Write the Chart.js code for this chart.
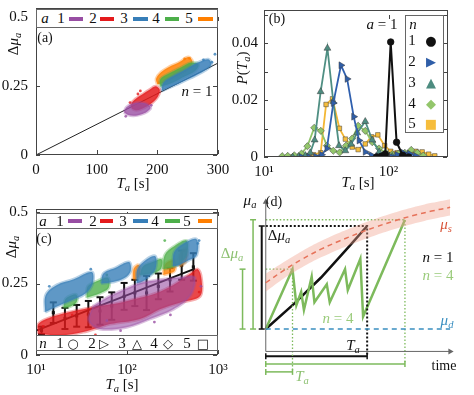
<!DOCTYPE html>
<html>
<head>
<meta charset="utf-8">
<title>Avalanche size and duration</title>
<script src="https://cdn.jsdelivr.net/npm/chart.js@4.4.1/dist/chart.umd.min.js"></script>
<style>
  body { margin: 0; background: #fff; }
  #fig { position: relative; width: 474px; height: 395px; overflow: hidden;
         font-family: "Liberation Serif", "DejaVu Serif", serif; color: #111; }
  #fig canvas { position: absolute; }
  .t { position: absolute; white-space: nowrap; line-height: 1; font-size: 15px;
       transform: translate(-50%, -50%); }
  .r { transform: translate(-50%, -50%) rotate(-90deg); }
  .t sub { font-size: 0.7em; vertical-align: -0.3em; font-style: italic; }
  .frame { position: absolute; box-sizing: border-box; border: 1px solid #444; }
  .box { position: absolute; box-sizing: border-box; background: #fff; border: 1.5px solid #666; }
  .dash { position: absolute; height: 4px; }
  .sym { font-family: "DejaVu Sans", sans-serif; font-size: 13px; }
</style>
</head>
<body>
<div id="fig">
  <canvas id="chartA" width="237" height="195" style="left:0;top:0"></canvas>
  <canvas id="chartB" width="252" height="195" style="left:222px;top:0"></canvas>
  <canvas id="chartC" width="237" height="200" style="left:0;top:195px"></canvas>
  <canvas id="chartD" width="242" height="200" style="left:224px;top:190px"></canvas>
  <div class="frame" style="left:36px;top:8px;width:182px;height:147px"></div>
  <div class="frame" style="left:264px;top:10px;width:184px;height:147px"></div>
  <div class="frame" style="left:36px;top:209px;width:182px;height:146px"></div>

  <!-- panel (a) -->
  <div class="box" style="left:36px;top:9px;width:182px;height:19px"></div>
  <div class="t" style="left:45px;top:18px"><i>a</i></div>
  <div class="t" style="left:61px;top:18px">1</div>
  <div class="dash" style="left:69px;top:16.5px;width:14px;background:#984ea3"></div>
  <div class="t" style="left:93px;top:18px">2</div>
  <div class="dash" style="left:100px;top:16.5px;width:14px;background:#e41a1c"></div>
  <div class="t" style="left:124px;top:18px">3</div>
  <div class="dash" style="left:133px;top:16.5px;width:15px;background:#377eb8"></div>
  <div class="t" style="left:156px;top:18px">4</div>
  <div class="dash" style="left:165px;top:16.5px;width:14px;background:#4daf4a"></div>
  <div class="t" style="left:189px;top:18px">5</div>
  <div class="dash" style="left:198px;top:16.5px;width:15px;background:#ff7f00"></div>
  <div class="t" style="left:45px;top:38px;font-size:14px">(a)</div>
  <div class="t" style="left:197px;top:91px"><i>n</i> = 1</div>
  <div class="t" style="left:133px;top:185px"><i>T</i><sub>a</sub> [s]</div>
  <div class="t r" style="left:15px;top:44px">Δ<i>μ</i><sub>a</sub></div>

  <!-- panel (b) -->
  <div class="box" style="left:405px;top:15px;width:39px;height:118px;border-width:1px"></div>
  <div class="t" style="left:413px;top:24px"><i>n</i></div>
  <div class="t" style="left:412px;top:40px">1</div>
  <div class="t sym" style="left:431px;top:40px;color:#111">●</div>
  <div class="t" style="left:412px;top:61px">2</div>
  <div class="t sym" style="left:431px;top:61px;color:#2f5ea8">▶</div>
  <div class="t" style="left:412px;top:82px">3</div>
  <div class="t sym" style="left:431px;top:82px;color:#4d8c80">▲</div>
  <div class="t" style="left:412px;top:103px">4</div>
  <div class="t sym" style="left:431px;top:103px;color:#93c66b">◆</div>
  <div class="t" style="left:412px;top:123px">5</div>
  <div class="t sym" style="left:431px;top:123px;color:#f6bd3c">■</div>
  <div class="t" style="left:382px;top:24px"><i>a</i> = 1</div>
  <div class="t" style="left:277px;top:19px;font-size:14px">(b)</div>
  <div class="t" style="left:358px;top:184px"><i>T</i><sub>a</sub> [s]</div>
  <div class="t r" style="left:244px;top:68px"><i>P</i>(<i>T</i><sub>a</sub>)</div>

  <!-- panel (c) -->
  <div class="box" style="left:36px;top:213px;width:182px;height:16px"></div>
  <div class="t" style="left:43px;top:221px"><i>a</i></div>
  <div class="t" style="left:60px;top:221px">1</div>
  <div class="dash" style="left:68px;top:219px;width:14px;background:#984ea3"></div>
  <div class="t" style="left:93px;top:221px">2</div>
  <div class="dash" style="left:100px;top:219px;width:13px;background:#e41a1c"></div>
  <div class="t" style="left:123px;top:221px">3</div>
  <div class="dash" style="left:133px;top:219px;width:15px;background:#377eb8"></div>
  <div class="t" style="left:155px;top:221px">4</div>
  <div class="dash" style="left:165px;top:219px;width:15px;background:#4daf4a"></div>
  <div class="t" style="left:187px;top:221px">5</div>
  <div class="dash" style="left:198px;top:219px;width:14px;background:#ff7f00"></div>
  <div class="box" style="left:36px;top:335px;width:182px;height:16px"></div>
  <div class="t" style="left:43px;top:343px"><i>n</i></div>
  <div class="t" style="left:60px;top:343px">1</div>
  <div class="t sym" style="left:73px;top:343px">○</div>
  <div class="t" style="left:92px;top:343px">2</div>
  <div class="t sym" style="left:104px;top:343px">▷</div>
  <div class="t" style="left:122px;top:343px">3</div>
  <div class="t sym" style="left:137px;top:343px">△</div>
  <div class="t" style="left:154px;top:343px">4</div>
  <div class="t sym" style="left:168px;top:343px">◇</div>
  <div class="t" style="left:187px;top:343px">5</div>
  <div class="t sym" style="left:203px;top:343px">□</div>
  <div class="t" style="left:44px;top:239px;font-size:14px">(c)</div>
  <div class="t" style="left:122px;top:386px"><i>T</i><sub>a</sub> [s]</div>
  <div class="t r" style="left:13px;top:247px">Δ<i>μ</i><sub>a</sub></div>

  <!-- panel (d) -->
  <div class="t" style="left:250px;top:202px"><i>μ</i><sub>a</sub></div>
  <div class="t" style="left:274px;top:202px;font-size:14px">(d)</div>
  <div class="t" style="left:279px;top:237px">Δ<i>μ</i><sub>a</sub></div>
  <div class="t" style="left:232px;top:255px;color:#8cc070">Δ<i>μ</i><sub>a</sub></div>
  <div class="t" style="left:446px;top:226px;color:#d9553a"><i>μ</i><sub>s</sub></div>
  <div class="t" style="left:438px;top:257px"><i>n</i> = 1</div>
  <div class="t" style="left:438px;top:275px;color:#9acb7b"><i>n</i> = 4</div>
  <div class="t" style="left:338px;top:318px;color:#9acb7b"><i>n</i> = 4</div>
  <div class="t" style="left:447px;top:322px;color:#3a8fc0"><i>μ</i><sub>d</sub></div>
  <div class="t" style="left:353px;top:347px"><i>T</i><sub>a</sub></div>
  <div class="t" style="left:302px;top:378px;color:#8cc070"><i>T</i><sub>a</sub></div>
  <div class="t" style="left:444px;top:366px;font-size:14px">time</div>
</div>

<script>
// ---------- panel (a): clouds of (Ta [s], dmu) for each a, n = 1 ----------
const aXTicks = [0, 100, 200, 300];
const aXTickLabels = ["0", "100", "200", "300"];
const aYTicks = [0, 0.25, 0.5];
const aYTickLabels = ["0", "0.25", "0.5"];

const aCloud1 = [[145, 0.155], [151, 0.146], [161, 0.142], [173, 0.147], [183, 0.157], [189, 0.171], [184, 0.184], [172, 0.19], [159, 0.186], [149, 0.173], [145, 0.155]];
const aCloud2 = [[158, 0.168], [166, 0.162], [179, 0.172], [192, 0.19], [201, 0.212], [204, 0.236], [197, 0.249], [187, 0.236], [175, 0.219], [164, 0.203], [157, 0.185], [158, 0.168]];
const aCloud3 = [[207, 0.232], [230, 0.254], [255, 0.279], [279, 0.307], [289, 0.327], [284, 0.347], [266, 0.334], [246, 0.31], [226, 0.286], [210, 0.262], [207, 0.232]];
const aCloud4 = [[205, 0.247], [225, 0.262], [245, 0.284], [262, 0.304], [268, 0.328], [256, 0.335], [238, 0.316], [220, 0.296], [205, 0.275], [205, 0.247]];
const aCloud5 = [[200, 0.256], [215, 0.265], [234, 0.288], [250, 0.308], [258, 0.338], [251, 0.355], [236, 0.336], [220, 0.32], [206, 0.3], [198, 0.276], [200, 0.256]];
const aStray1 = [[148, 0.14], [190, 0.18]];
const aStray2 = [[168, 0.221], [172, 0.232], [155, 0.19]];
const aStray3 = [[295, 0.365], [276, 0.345], [290, 0.336]];
const aStray5 = [[253, 0.35], [245, 0.348], [203, 0.262]];
const aFitT = [0, 300];
const aFitMu = [0, 0.333];

// ---------- panel (b): P(Ta) for a = 1 ----------
const bXTicks = [10, 100];
const bXTickLabels = ["10¹", "10²"];
const bYTicks = [0, 0.01, 0.02, 0.03, 0.04, 0.05];
const bYTickLabels = ["0", "", "0.02", "", "0.04", ""];

const bT1 = [80, 88, 94, 104, 116, 130, 145];
const bP1 = [0, 0.0003, 0.001, 0.0405, 0.0052, 0.0006, 0];
const bT2 = [20, 23, 26, 29, 32, 36, 41.5, 46.5, 52.5, 58, 65, 73, 82, 92, 104, 117, 131, 147, 165];
const bP2 = [0, 0, 0.0002, 0.0008, 0.003, 0.019, 0.0323, 0.0275, 0.0142, 0.0058, 0.0018, 0.0006, 0.0003, 0.0002, 0.0002, 0.0008, 0.0015, 0.0012, 0.0004];
const bT3 = [17, 19, 21.5, 23.5, 25.5, 28.5, 32.3, 36, 40, 45, 50, 56, 65, 74, 84, 95, 107, 120];
const bP3 = [0, 0.0002, 0.0005, 0.0015, 0.006, 0.023, 0.0383, 0.0195, 0.004, 0.0022, 0.0045, 0.0085, 0.0125, 0.006, 0.0018, 0.0006, 0.0002, 0];
const bT4 = [14, 15.5, 17.5, 20, 22.3, 25.3, 28.6, 32, 36, 40.5, 45.5, 51, 57, 65, 74, 84, 95, 107, 120, 135, 152, 170, 190];
const bP4 = [0.0003, 0.0004, 0.0006, 0.0012, 0.0038, 0.0103, 0.0092, 0.004, 0.0022, 0.0016, 0.004, 0.0065, 0.011, 0.0092, 0.0052, 0.003, 0.0015, 0.001, 0.0012, 0.0015, 0.0025, 0.0015, 0.0005];
const bT5 = [17, 19.5, 22, 25, 28.5, 31.5, 35.5, 40.3, 45, 51, 57, 65, 73, 82, 93, 104, 117, 132, 148, 166, 186, 210, 235];
const bP5 = [0, 0.0002, 0.0004, 0.0008, 0.0015, 0.0185, 0.0205, 0.0101, 0.0063, 0.0035, 0.0026, 0.0046, 0.0071, 0.0078, 0.004, 0.002, 0.0015, 0.0012, 0.0015, 0.002, 0.0018, 0.001, 0.0004];

// ---------- panel (c): all a and n ----------
const cXTicks = [10, 100, 1000];
const cXTickLabels = ["10¹", "10²", "10³"];
const cYTicks = [0, 0.25, 0.5];
const cYTickLabels = ["0", "0.25", "0.5"];

const cClouds1 = [
  [[42, 0.17], [60, 0.2], [77, 0.217], [139, 0.251], [230, 0.263], [453, 0.274], [560, 0.27], [492, 0.205], [323, 0.16], [179, 0.126], [99, 0.097], [50, 0.091], [38, 0.12], [42, 0.17]]
];
const cClouds2 = [
  [[10.6, 0.074], [18.4, 0.068], [33, 0.08], [50, 0.097], [65, 0.108], [139, 0.126], [230, 0.16], [381, 0.183], [634, 0.205], [660, 0.263], [600, 0.3], [500, 0.285], [323, 0.245], [213, 0.217], [139, 0.2], [84, 0.183], [50, 0.171], [33, 0.16], [21.7, 0.148], [14.3, 0.131], [10.6, 0.108], [10.6, 0.074]]
];
const cClouds3 = [
  [[12.6, 0.15], [12.8, 0.21], [17, 0.245], [26, 0.265], [41, 0.29], [42, 0.25], [35, 0.215], [24, 0.19], [17, 0.17], [12.6, 0.15]],
  [[52, 0.25], [55, 0.285], [75, 0.305], [105, 0.325], [110, 0.295], [95, 0.27], [70, 0.255], [52, 0.25]],
  [[128, 0.25], [130, 0.3], [165, 0.335], [205, 0.345], [205, 0.3], [170, 0.27], [145, 0.255], [128, 0.25]],
  [[320, 0.31], [330, 0.36], [420, 0.39], [580, 0.405], [585, 0.35], [470, 0.33], [380, 0.315], [320, 0.31]]
];
const cClouds4 = [
  [[20, 0.165], [21, 0.195], [25, 0.21], [28, 0.21], [28, 0.185], [24, 0.17], [20, 0.165]],
  [[36, 0.2], [37, 0.24], [48, 0.26], [62, 0.27], [63, 0.235], [50, 0.215], [36, 0.2]],
  [[139, 0.28], [150, 0.31], [190, 0.325], [240, 0.335], [235, 0.3], [185, 0.285], [139, 0.28]],
  [[250, 0.3], [260, 0.35], [330, 0.38], [450, 0.4], [455, 0.35], [380, 0.32], [300, 0.305], [250, 0.3]]
];
const cClouds5 = [
  [[117, 0.265], [118, 0.3], [130, 0.315], [139, 0.31], [137, 0.275], [125, 0.265], [117, 0.265]],
  [[250, 0.28], [260, 0.315], [300, 0.33], [340, 0.33], [335, 0.295], [290, 0.285], [250, 0.28]],
  [[370, 0.31], [375, 0.35], [420, 0.37], [455, 0.37], [450, 0.33], [410, 0.315], [370, 0.31]]
];
const cStray1 = [[60, 0.12], [85, 0.085], [200, 0.115], [300, 0.14], [650, 0.24]];
const cStray2 = [[12, 0.1], [25, 0.14], [620, 0.22], [45, 0.07]];
const cStray3 = [[14, 0.24], [600, 0.39], [40, 0.3], [620, 0.4]];
const cStray4 = [[260, 0.4], [60, 0.28]];
const cBarT = [11.5, 15.5, 20.8, 28, 37.6, 50.5, 68, 93, 122, 164, 221, 297, 399, 536];
const cBarMean = [0.086, 0.148, 0.128, 0.137, 0.143, 0.154, 0.171, 0.205, 0.217, 0.217, 0.24, 0.263, 0.314, 0.308];
const cBarErr = [0.013, 0.036, 0.037, 0.038, 0.046, 0.048, 0.048, 0.047, 0.046, 0.06, 0.045, 0.041, 0.051, 0.048];
const cFitT = [10.2, 560];
const cFitMu = [0.086, 0.302];

// ---------- panel (d): sketch, time and mu in arbitrary units ----------
const dOneT = [0, 15, 30, 45, 55];
const dOneMu = [15, 31.5, 49.5, 70, 84];
const dFourT = [0, 14.5, 16.6, 19.2, 20.7, 24.9, 26.4, 33.1, 34.7, 43.0, 44.5, 51.3, 52.8, 75.5];
const dFourMu = [15, 55.1, 31.0, 39.9, 27.8, 50.0, 32.9, 44.9, 32.9, 55.1, 41.1, 62.0, 23.4, 88.2];
const dMuST = [0, 10, 20, 30, 40, 50, 60, 70, 80, 90, 100];
const dMuS = [46, 54.5, 62, 68.5, 74, 79, 83.5, 87.5, 91, 94, 96.5];
const dMuSHi = [52, 60, 67.5, 74, 79.5, 84.5, 89, 93, 96.5, 99.5, 102];
const dMuSLo = [40, 49, 56.5, 63, 68.5, 73.5, 78, 82, 85.5, 88.5, 91];
const dMuDT = [0, 100];
const dMuD = [15, 15];
const dAxisY = [[0, 0], [0, 100]];
const dAxisX = [[0, 0], [100, 0]];
const dGuideOne = [[0, 84], [55, 84], [55, -3.2]];
const dGuideFourLong = [[0, 88.2], [75.5, 88.2], [75.5, -8.4]];
const dGuideFourShort = [[0, 55.1], [14.5, 55.1], [14.5, -13.7]];
const dSpanOne = [[-2.2, 84], [-2.2, 15]];
const dSpanFourLong = [[-6.9, 88.2], [-6.9, 15]];
const dSpanFourShort = [[-12.6, 55.1], [-12.6, 15]];
const dDurOne = [[0, -3.2], [55, -3.2]];
const dDurFourLong = [[0, -8.4], [75.5, -8.4]];
const dDurFourShort = [[0, -13.7], [14.5, -13.7]];

// ---------- helpers ----------
const pts = (xs, ys) => xs.map((x, i) => ({ x: x, y: ys[i] }));
const xy = list => list.map(p => ({ x: p[0], y: p[1] }));

Chart.defaults.font.family = '"Liberation Serif", "DejaVu Serif", serif';
Chart.defaults.font.size = 15;
Chart.defaults.color = "#111";

// inward ticks on all four sides, like the original figure
const innerTicks = {
  id: "innerTicks",
  afterDraw(chart) {
    const ctx = chart.ctx, a = chart.chartArea;
    const sx = chart.scales.x, sy = chart.scales.y;
    const L = Math.round(a.left), R = Math.round(a.right) - 1;
    const T = Math.round(a.top), B = Math.round(a.bottom) - 1;
    ctx.save();
    ctx.fillStyle = "#444";
    sx.ticks.forEach(t => {
      const p = Math.round(sx.getPixelForValue(t.value));
      ctx.fillRect(p, B - 4, 1, 4);
      ctx.fillRect(p, T, 1, 4);
    });
    sy.ticks.forEach(t => {
      const p = Math.round(sy.getPixelForValue(t.value));
      ctx.fillRect(L, p, 4, 1);
      ctx.fillRect(R - 4, p, 4, 1);
    });
    ctx.restore();
  }
};

// a cloud: filled outline with a soft, lighter rim
function cloudSets(polys, rgb, alpha) {
  return polys.map(p => ({
    data: xy(p), showLine: true, fill: "shape", tension: 0.35,
    backgroundColor: "rgba(" + rgb + "," + alpha + ")",
    borderColor: "rgba(" + rgb + ",0.35)", borderWidth: 3, pointRadius: 0
  }));
}
function strays(list, rgb) {
  return { data: xy(list), pointRadius: 1.4, pointBackgroundColor: "rgba(" + rgb + ",0.8)", pointBorderWidth: 0 };
}
function line(data, color, width, extra) {
  return Object.assign({ data: data, showLine: true, borderColor: color, borderWidth: width,
    pointRadius: 0, fill: false, clip: false }, extra || {});
}
function scaleX(type, min, max, ticks, labels, height) {
  return {
    type: type, min: min, max: max,
    grid: { display: false, drawTicks: false }, border: { display: false },
    afterBuildTicks: s => { s.ticks = ticks.map(v => ({ value: v })); },
    afterFit: s => { s.height = height; },
    ticks: { autoSkip: false, maxRotation: 0, padding: 6, callback: (v, i) => labels[i] }
  };
}
function scaleY(min, max, ticks, labels, width, pad) {
  return {
    type: "linear", min: min, max: max,
    grid: { display: false, drawTicks: false }, border: { display: false },
    afterBuildTicks: s => { s.ticks = ticks.map(v => ({ value: v })); },
    afterFit: s => { s.width = width; },
    ticks: { autoSkip: false, padding: pad, callback: (v, i) => labels[i] }
  };
}
const baseOptions = pad => ({
  responsive: false, animation: false, events: [],
  layout: { padding: pad },
  plugins: { legend: { display: false }, tooltip: { enabled: false } }
});

const PURPLE = "152,78,163";
const RED = "228,26,28";
const BLUE = "55,126,184";
const GREEN = "77,175,74";
const ORANGE = "255,127,0";

// ---------- chart (a) ----------
new Chart(document.getElementById("chartA"), {
  type: "scatter",
  data: {
    datasets: [
      ...cloudSets([aCloud1], PURPLE, 0.8), strays(aStray1, PURPLE),
      ...cloudSets([aCloud2], RED, 0.85), strays(aStray2, RED),
      ...cloudSets([aCloud3], BLUE, 0.85), strays(aStray3, BLUE),
      ...cloudSets([aCloud4], GREEN, 0.85),
      ...cloudSets([aCloud5], ORANGE, 0.85), strays(aStray5, ORANGE),
      line(pts(aFitT, aFitMu), "#222", 1)
    ]
  },
  options: Object.assign(baseOptions({ top: 8, right: 19, left: 0, bottom: 0 }), {
    scales: {
      x: scaleX("linear", 0, 300, aXTicks, aXTickLabels, 40),
      y: scaleY(0, 0.5, aYTicks, aYTickLabels, 36, 8)
    }
  }),
  plugins: [innerTicks]
});

// ---------- chart (b) ----------
const bStyle = [
  { c: "#111", f: "#111", s: "circle", r: 3.3, rot: 0, w: 2 },
  { c: "#2f5fae", f: "#2f5ea8", s: "triangle", r: 4, rot: 90, w: 1.8 },
  { c: "#4f8f83", f: "#4d8c80", s: "triangle", r: 4, rot: 0, w: 1.8 },
  { c: "#8fc46a", f: "#93c66b", s: "rectRot", r: 3.6, rot: 0, w: 1.8 },
  { c: "#f3b733", f: "#f6bd3c", s: "rect", r: 3.2, rot: 0, w: 1.8 }
];
const bSeries = [pts(bT1, bP1), pts(bT2, bP2), pts(bT3, bP3), pts(bT4, bP4), pts(bT5, bP5)];
new Chart(document.getElementById("chartB"), {
  type: "scatter",
  data: {
    datasets: bSeries.map((d, i) => ({
      data: d, showLine: true, borderColor: bStyle[i].c, borderWidth: bStyle[i].w,
      pointStyle: bStyle[i].s, pointRadius: bStyle[i].r, pointRotation: bStyle[i].rot,
      pointBackgroundColor: bStyle[i].f, pointBorderColor: i === 0 ? "#111" : "rgba(60,60,60,0.7)",
      pointBorderWidth: 0.7
    }))
  },
  options: Object.assign(baseOptions({ top: 10, right: 26, left: 0, bottom: 0 }), {
    scales: {
      x: scaleX("logarithmic", 10, 300, bXTicks, bXTickLabels, 38),
      y: scaleY(0, 0.05, bYTicks, bYTickLabels, 42, 6)
    }
  }),
  plugins: [innerTicks]
});

// ---------- chart (c) ----------
const cErrData = [];
cBarT.forEach((t, i) => {
  cErrData.push({ x: t, y: cBarMean[i] - cBarErr[i] }, { x: t, y: cBarMean[i] + cBarErr[i] }, { x: t, y: null });
});
new Chart(document.getElementById("chartC"), {
  type: "scatter",
  data: {
    datasets: [
      ...cloudSets(cClouds1, PURPLE, 0.6), strays(cStray1, PURPLE),
      ...cloudSets(cClouds2, RED, 0.8), strays(cStray2, RED),
      ...cloudSets(cClouds3, BLUE, 0.8), strays(cStray3, BLUE),
      ...cloudSets(cClouds4, GREEN, 0.8), strays(cStray4, GREEN),
      ...cloudSets(cClouds5, ORANGE, 0.8),
      line(pts(cFitT, cFitMu), "#111", 2),
      line(cErrData, "#111", 2, { pointStyle: "line", pointRadius: 3.5, pointBorderColor: "#111", pointBorderWidth: 2 }),
      { data: pts(cBarT, cBarMean), pointStyle: "rect", pointRadius: 2.2, pointBackgroundColor: "#111", pointBorderWidth: 0 }
    ]
  },
  options: Object.assign(baseOptions({ top: 14, right: 19, left: 0, bottom: 0 }), {
    scales: {
      x: scaleX("logarithmic", 10, 1000, cXTicks, cXTickLabels, 40),
      y: scaleY(0, 0.5, cYTicks, cYTickLabels, 36, 8)
    }
  }),
  plugins: [innerTicks]
});

// ---------- chart (d): sketch ----------
const GREEN_D = "#7dba5c";
const capV = color => ({ pointStyle: "line", pointRadius: 3, pointRotation: 0, pointBorderColor: color, pointBorderWidth: 1.5 });
const capH = color => ({ pointStyle: "line", pointRadius: 3, pointRotation: 90, pointBorderColor: color, pointBorderWidth: 1.5 });
new Chart(document.getElementById("chartD"), {
  type: "scatter",
  data: {
    datasets: [
      line(pts(dMuST, dMuSHi), "rgba(0,0,0,0)", 0, { fill: "+1", backgroundColor: "rgba(240,160,140,0.4)", tension: 0.4 }),
      line(pts(dMuST, dMuSLo), "rgba(0,0,0,0)", 0, { tension: 0.4 }),
      line(pts(dMuST, dMuS), "#e0553a", 1.5, { borderDash: [5, 4], tension: 0.4 }),
      line(pts(dMuDT, dMuD), "#3a8fc0", 1.5, { borderDash: [5, 4] }),
      line(xy(dAxisY), "#666", 1, { pointStyle: "triangle", pointRadius: [0, 3.5], pointBackgroundColor: "#666", pointBorderWidth: 0 }),
      line(xy(dAxisX), "#666", 1, { pointStyle: "triangle", pointRotation: 90, pointRadius: [0, 3.5], pointBackgroundColor: "#666", pointBorderWidth: 0 }),
      line(xy(dGuideFourLong), GREEN_D, 1.3, { borderDash: [1.5, 2] }),
      line(xy(dGuideFourShort), GREEN_D, 1.3, { borderDash: [1.5, 2] }),
      line(xy(dGuideOne), "#111", 2, { borderDash: [2, 2] }),
      line(xy(dSpanOne), "#111", 2, capV("#111")),
      line(xy(dDurOne), "#111", 2, capH("#111")),
      line(xy(dSpanFourLong), GREEN_D, 1.5, capV(GREEN_D)),
      line(xy(dSpanFourShort), GREEN_D, 1.5, capV(GREEN_D)),
      line(xy(dDurFourLong), GREEN_D, 1.5, capH(GREEN_D)),
      line(xy(dDurFourShort), GREEN_D, 1.5, capH(GREEN_D)),
      line(pts(dFourT, dFourMu), GREEN_D, 2.5),
      line(pts(dOneT, dOneMu), "#111", 2.5)
    ]
  },
  options: Object.assign(baseOptions(0), {
    scales: {
      x: { type: "linear", display: false, min: -19.68, max: 105.64 },
      y: { type: "linear", display: false, min: -22.15, max: 104.43 }
    }
  })
});
</script>
</body>
</html>
